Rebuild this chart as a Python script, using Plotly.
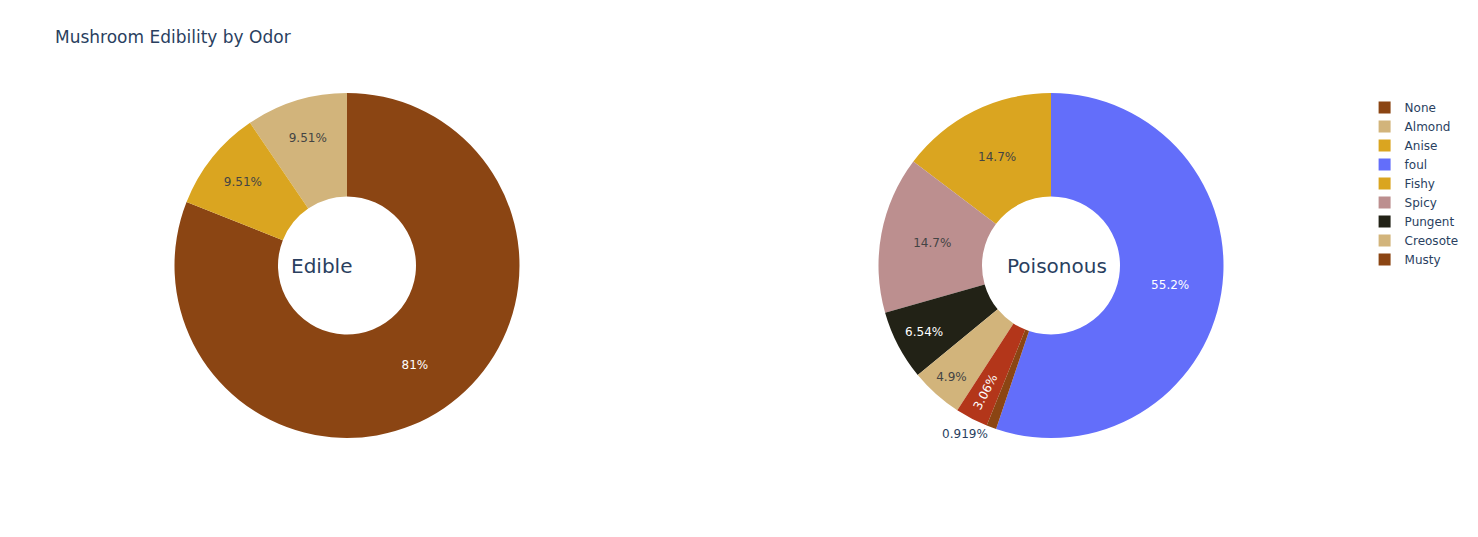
import plotly.graph_objects as go

# odor counts per class (mushroom dataset)
edible_labels = ["None", "Almond", "Anise"]
edible_counts = [3408, 400, 400]
edible_colors = ["#8B4513", "#D2B47B", "#DAA520"]

poison_labels = ["foul", "Fishy", "Spicy", "Pungent", "Creosote", "None", "Musty"]
poison_counts = [2160, 576, 576, 256, 192, 120, 36]
poison_colors = ["#636EFA", "#DAA520", "#BC8F8F", "#222216", "#D2B47B", "#B3361A", "#8B4513"]

fig = go.Figure()
fig.add_trace(go.Pie(labels=edible_labels, values=edible_counts, name="Edible",
                     marker=dict(colors=edible_colors), hole=0.4,
                     domain=dict(x=[0, 0.45], y=[0, 1])))
fig.add_trace(go.Pie(labels=poison_labels, values=poison_counts, name="Poisonous",
                     marker=dict(colors=poison_colors), hole=0.4,
                     domain=dict(x=[0.55, 1], y=[0, 1])))

fig.update_layout(
    font=dict(family="Verdana, DejaVu Sans, sans-serif"),
    title=dict(text="Mushroom Edibility by Odor", x=47 / 1462, xanchor="left",
               y=1 - 29 / 521, yanchor="middle"),
    annotations=[dict(text="Edible", x=0.18, y=0.5, font_size=20, showarrow=False),
                 dict(text="Poisonous", x=0.82, y=0.5, font_size=20, showarrow=False)],
    margin=dict(l=51, r=131, t=85, b=91, autoexpand=False),
    paper_bgcolor="white",
)

fig.write_html("out.html")
